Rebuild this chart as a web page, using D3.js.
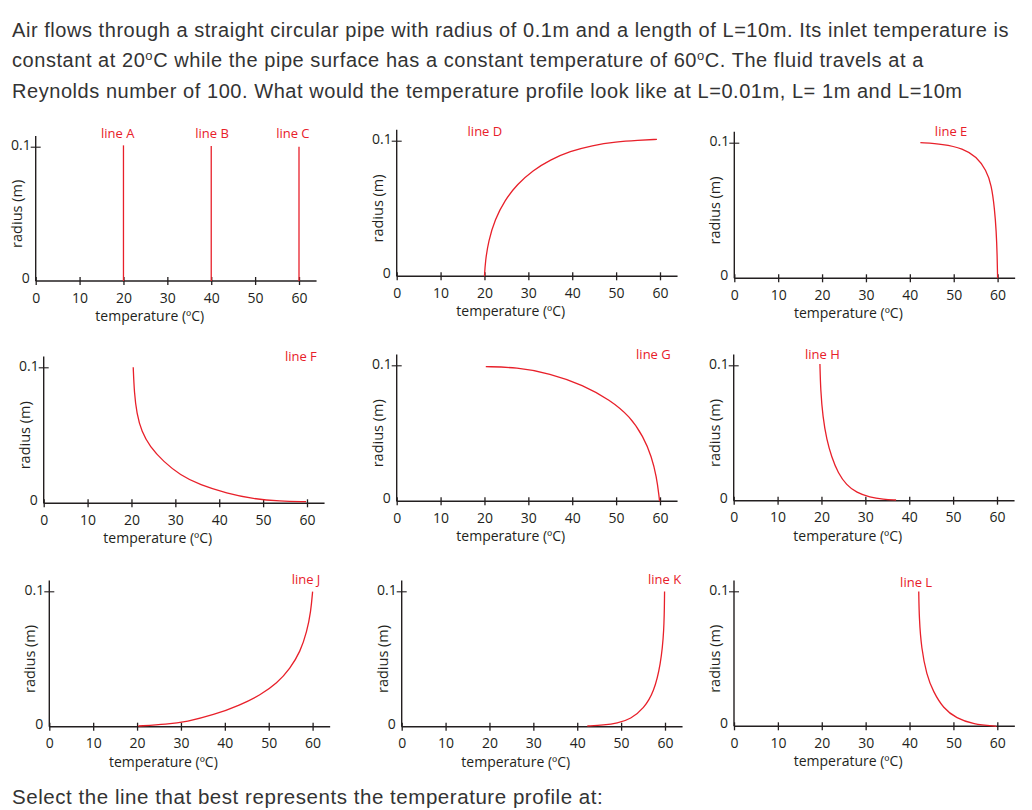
<!DOCTYPE html>
<html>
<head>
<meta charset="utf-8">
<script src="https://cdn.jsdelivr.net/npm/d3@7"></script>
<style>
  body { margin: 0; background: #fff; }
  svg { display: block; }
</style>
</head>
<body>
<div id="chart"></div>
<script>
// tick values
var tempTicks = [0, 10, 20, 30, 40, 50, 60];
var radiusTicks = [0, 0.1];

// line profiles, [temperature (C), radius (m)]
var lineA = [[20, 0], [20, 0.101]];
var lineB = [[40, 0], [40, 0.1005]];
var lineC = [[60, 0], [60, 0.1]];
var lineD = [[20, 0], [20.2, 0.011], [20.9, 0.026], [22.4, 0.042], [24.6, 0.056], [27.5, 0.068], [31, 0.078], [35, 0.086], [39.5, 0.0922], [44.5, 0.0965], [50, 0.0992], [55, 0.1003], [59.3, 0.101]];
var lineE = [[42.4, 0.1], [47.6, 0.099], [52.1, 0.0958], [55.2, 0.0897], [57.4, 0.0799], [58.6, 0.0688], [59.3, 0.0516], [59.7, 0.0344], [59.9, 0.0172], [60, 0]];
var lineF = [[20.4, 0.1], [20.65, 0.081], [21.2, 0.066], [22.3, 0.0527], [24.2, 0.0417], [27.3, 0.0306], [31.1, 0.0208], [35.6, 0.0135], [41.7, 0.0074], [47.8, 0.0032], [53.8, 0.0015], [59.8, 0.0012]];
var lineG = [[20.3, 0.099], [27.3, 0.0985], [34.9, 0.0941], [42.5, 0.0855], [48.6, 0.0745], [53.2, 0.0623], [56.2, 0.0475], [58.1, 0.0328], [59.2, 0.0181], [59.8, 0.0034], [59.9, 0]];
var lineH = [[19.65, 0.101], [19.8, 0.0818], [20.3, 0.062], [21.2, 0.0448], [22.3, 0.0325], [23.8, 0.0202], [25.7, 0.0116], [28, 0.0059], [31, 0.0025], [34.1, 0.001], [37, 0.0005]];
var lineJ = [[20.3, 0.0005], [26.8, 0.0017], [31.3, 0.0037], [37.4, 0.0086], [43.5, 0.016], [48.1, 0.0234], [51.9, 0.032], [54.9, 0.0431], [57.2, 0.0554], [58.7, 0.0702], [59.6, 0.085], [60, 0.0998]];
var lineK = [[42.3, 0.0005], [46.1, 0.0012], [49.1, 0.0025], [52.2, 0.0057], [55.2, 0.0135], [57.5, 0.0259], [59, 0.0456], [59.8, 0.0702], [59.9, 0.0998]];
var lineL = [[42.1, 0.0998], [42.2, 0.08], [42.7, 0.0578], [43.9, 0.038], [45.4, 0.0257], [47.7, 0.0133], [50.7, 0.0059], [54.5, 0.0015], [59.8, 0]];

var profiles = {A: lineA, B: lineB, C: lineC, D: lineD, E: lineE, F: lineF,
                G: lineG, H: lineH, J: lineJ, K: lineK, L: lineL};

// panel placement: x0 = y axis, y0 = pixel of r=0, y1 = pixel of r=0.1
var panels = [
  {lines: ["A", "B", "C"], x0: 35.7, y0: 281, y1: 146.7},
  {lines: ["D"], x0: 396.7, y0: 276.3, y1: 140.7},
  {lines: ["E"], x0: 734.3, y0: 278.3, y1: 142.7},
  {lines: ["F"], x0: 43.7, y0: 503.3, y1: 367.3},
  {lines: ["G"], x0: 396.7, y0: 501.3, y1: 365.3},
  {lines: ["H"], x0: 733.7, y0: 500.7, y1: 365.3},
  {lines: ["J"], x0: 49.3, y0: 726.7, y1: 591.3},
  {lines: ["K"], x0: 401.7, y0: 726.7, y1: 591.3},
  {lines: ["L"], x0: 734, y0: 726.3, y1: 591.3}
];

// where each "line X" label sits: temperature of its centre, offset above the 0.1 tick
var labelPos = {A: [18.7, -9], B: [40.2, -9], C: [58.6, -9], D: [20.1, -5], E: [49.4, -7],
                F: [58.6, -6.6], G: [58.5, -6], H: [20.2, -6], J: [58.5, -7], K: [59.9, -7], L: [41.5, -4.6]};

var red = "#e8202a";
var ink = "#231f20";
var chartFont = "'Open Sans', sans-serif";

var svg = d3.select("#chart").append("svg")
  .attr("width", 1032)
  .attr("height", 810);

// question text
var textFont = "'Liberation Sans', Arial, sans-serif";
var head = svg.append("g")
  .attr("font-family", textFont)
  .attr("font-size", 20)
  .attr("letter-spacing", "0.55px")
  .attr("fill", "#333");

head.append("text").attr("x", 12).attr("y", 36.7)
  .text("Air flows through a straight circular pipe with radius of 0.1m and a length of L=10m. Its inlet temperature is");

var t2 = head.append("text").attr("x", 12).attr("y", 67.3);
t2.append("tspan").text("constant at 20");
t2.append("tspan").attr("font-size", 13).attr("dy", -7).text("o");
t2.append("tspan").attr("dy", 7).text("C while the pipe surface has a constant temperature of 60");
t2.append("tspan").attr("font-size", 13).attr("dy", -7).text("o");
t2.append("tspan").attr("dy", 7).text("C. The fluid travels at a");

head.append("text").attr("x", 12).attr("y", 97.6)
  .text("Reynolds number of 100. What would the temperature profile look like at L=0.01m, L= 1m and L=10m");

head.append("text").attr("x", 12).attr("y", 803.5)
  .attr("font-size", 20.5)
  .text("Select the line that best represents the temperature profile at:");

panels.forEach(function(p)
{
  var x = d3.scaleLinear().domain([0, 60]).range([p.x0, p.x0 + 263.3]);
  var y = d3.scaleLinear().domain([0, 0.1]).range([p.y0, p.y1]);

  var g = svg.append("g");

  // x axis
  var xg = g.append("g")
    .attr("transform", "translate(0," + p.y0 + ")")
    .call(d3.axisBottom(x).tickValues(tempTicks).tickSize(4));
  xg.select(".domain").remove();
  xg.selectAll(".tick line").attr("y1", -4).attr("y2", 4)
    .attr("stroke", ink).attr("stroke-width", 1.3);
  xg.selectAll(".tick text").attr("y", 21.5).attr("dy", 0)
    .attr("fill", ink).attr("font-family", chartFont).attr("font-size", 14);

  // y axis
  var yg = g.append("g")
    .attr("transform", "translate(" + p.x0 + ",0)")
    .call(d3.axisLeft(y).tickValues(radiusTicks).tickSize(5)
      .tickFormat(function(d) { return d === 0 ? "0" : "0.1"; }));
  yg.select(".domain").remove();
  yg.selectAll(".tick line")
    .attr("x1", 5).attr("x2", -5)
    .attr("stroke", ink).attr("stroke-width", 1.1)
    .attr("display", function(d) { return d === 0 ? "none" : null; });
  yg.selectAll(".tick text")
    .attr("x", function(d) { return d === 0 ? -6 : -5; })
    .attr("dy", function(d) { return d === 0 ? "0.1em" : "0.2em"; })
    .attr("fill", ink).attr("font-family", chartFont).attr("font-size", 14);

  // axis lines
  g.append("line")
    .attr("x1", p.x0).attr("x2", x(64))
    .attr("y1", p.y0).attr("y2", p.y0)
    .attr("stroke", ink).attr("stroke-width", 1.4);
  g.append("line")
    .attr("x1", p.x0).attr("x2", p.x0)
    .attr("y1", p.y0).attr("y2", y(0.108))
    .attr("stroke", ink).attr("stroke-width", 1.4);

  // axis titles
  g.append("text")
    .attr("x", x(26)).attr("y", p.y0 + 40)
    .attr("text-anchor", "middle")
    .attr("fill", ink).attr("font-family", chartFont).attr("font-size", 14)
    .text("temperature (ºC)");
  g.append("text")
    .attr("transform", "translate(" + (p.x0 - 14) + "," + y(0.05) + ") rotate(-90)")
    .attr("text-anchor", "middle")
    .attr("fill", ink).attr("font-family", chartFont).attr("font-size", 14.5)
    .text("radius (m)");

  var line = d3.line()
    .x(function(d) { return x(d[0]); })
    .y(function(d) { return y(d[1]); })
    .curve(d3.curveBasis);

  p.lines.forEach(function(name)
  {
    g.append("path")
      .datum(profiles[name])
      .attr("d", line)
      .attr("fill", "none")
      .attr("stroke", red)
      .attr("stroke-width", 1.3);

    g.append("text")
      .attr("x", x(labelPos[name][0]))
      .attr("y", y(0.1) + labelPos[name][1])
      .attr("text-anchor", "middle")
      .attr("fill", red).attr("font-family", chartFont).attr("font-size", 13)
      .text("line " + name);
  });
});
</script>
</body>
</html>
